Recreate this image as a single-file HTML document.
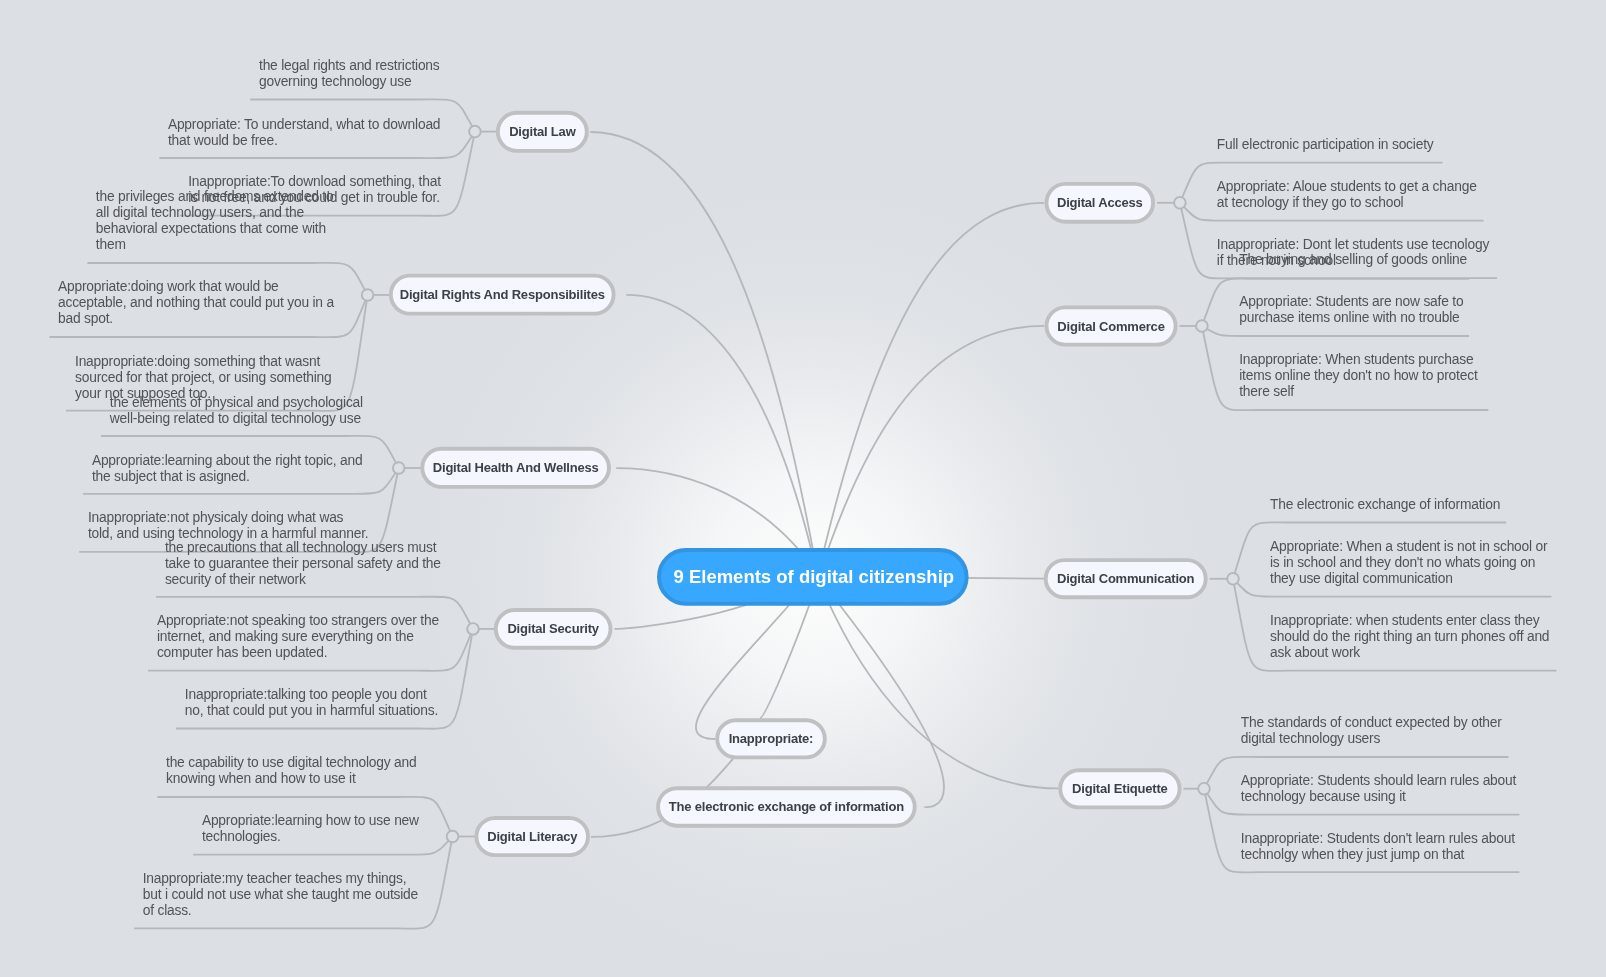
<!DOCTYPE html>
<html><head><meta charset="utf-8"><style>
html,body{margin:0;padding:0;width:1606px;height:977px;overflow:hidden}
body{background:radial-gradient(circle at 813px 577px,#fdfdfd 0px,#f5f6f7 100px,#e8eaed 200px,#dfe2e6 290px,#dcdfe3 390px,#dcdfe3 100%);font-family:"Liberation Sans",sans-serif;position:relative}
svg{position:absolute;left:0;top:0}
#wrap{position:absolute;left:0;top:0;width:1606px;height:977px;will-change:transform}
.ln path{fill:none;stroke:#b5b8bb;stroke-width:1.8}
.cc{fill:#dde0e4;stroke:#b5b8bb;stroke-width:1.9}
.nd{fill:#f4f8fe;stroke:#bfc0c2;stroke-width:3.9}
.t{position:absolute;font-size:13.8px;line-height:16px;letter-spacing:-0.2px;color:#505358;white-space:nowrap}
.n{position:absolute;font-size:13px;font-weight:bold;letter-spacing:-0.2px;color:#3d4146;text-align:center;white-space:nowrap}
.c{position:absolute;font-size:18.5px;font-weight:bold;letter-spacing:0px;color:#fff;text-align:center;white-space:nowrap}
</style></head><body>
<svg width="1606" height="977" viewBox="0 0 1606 977">
<g class="ln"><path d="M590.4,132.0 C720.2,132.0 779.4,364.6 818.0,577.0"/><path d="M626.4,294.8 C704.7,294.8 773.5,379.3 817.7,577.0"/><path d="M616.2,468.1 C673.3,468.1 760.1,488.6 819.8,577.0"/><path d="M1044.2,202.9 C966.6,202.9 887.7,272.1 817.6,577.0"/><path d="M1044.2,325.9 C918.0,325.9 857.7,458.0 818.5,577.0"/><path d="M614.5,628.9 C652.2,628.9 802.7,602.7 776.7,577.0"/><path d="M1058.1,788.4 C914.6,788.4 842.6,639.1 817.6,577.0"/><path d="M924.5,807.0 C923.6,807.0 1012.5,821.4 817.7,577.0"/><path d="M715.3,739.0 C653.7,739.0 753.7,649.5 813.4,577.0"/><path d="M759.8,718.5 C764.1,718.5 792.6,654.3 819.2,577.0"/><path d="M591.0,836.9 C677.7,836.9 721.3,770.2 733.1,759.0"/><path d="M960,577.8 L1046,578.6"/><path d="M474.9,131.6 L498.4,131.6"/><path d="M474.9,131.6 C455.5,96.1 461.7,99.5 418.8,99.5 L250.2,99.5"/><path d="M474.9,131.6 C455.5,160.8 461.7,158.0 418.8,158.0 L159.3,158.0"/><path d="M474.9,131.6 C455.5,224.5 461.7,215.6 418.8,215.6 L179.5,215.6"/><path d="M367.6,295.0 L391.4,295.0"/><path d="M367.6,295.0 C348.2,259.6 354.4,263.0 311.5,263.0 L87.4,263.0"/><path d="M367.6,295.0 C348.2,341.5 354.4,337.0 311.5,337.0 L49.5,337.0"/><path d="M367.6,295.0 C348.2,422.9 354.4,410.6 311.5,410.6 L66.0,410.6"/><path d="M398.7,468.0 L422.9,468.0"/><path d="M398.7,468.0 C379.3,432.6 385.5,436.0 342.6,436.0 L101.0,436.0"/><path d="M398.7,468.0 C379.3,496.5 385.5,493.8 342.6,493.8 L83.0,493.8"/><path d="M398.7,468.0 C379.3,560.8 385.5,551.9 342.6,551.9 L79.2,551.9"/><path d="M473.0,628.9 L496.3,628.9"/><path d="M473.0,628.9 C453.6,593.4 459.8,596.8 416.9,596.8 L156.0,596.8"/><path d="M473.0,628.9 C453.6,675.1 459.8,670.7 416.9,670.7 L148.0,670.7"/><path d="M473.0,628.9 C453.6,739.1 459.8,728.5 416.9,728.5 L176.0,728.5"/><path d="M452.5,836.5 L477.0,836.5"/><path d="M452.5,836.5 C433.1,792.8 439.3,797.0 396.4,797.0 L157.4,797.0"/><path d="M452.5,836.5 C433.1,856.5 439.3,854.6 396.4,854.6 L193.0,854.6"/><path d="M452.5,836.5 C433.1,938.1 439.3,928.4 396.4,928.4 L134.0,928.4"/><path d="M1157.0,202.8 L1179.9,202.8"/><path d="M1179.9,202.8 C1199.3,158.4 1193.1,162.7 1236.0,162.7 L1442.5,162.7"/><path d="M1179.9,202.8 C1199.3,222.5 1193.1,220.6 1236.0,220.6 L1483.6,220.6"/><path d="M1179.9,202.8 C1199.3,286.2 1193.1,278.2 1236.0,278.2 L1497.0,278.2"/><path d="M1179.5,326.0 L1201.9,326.0"/><path d="M1201.9,326.0 C1221.3,273.8 1215.1,278.8 1258.0,278.8 L1469.0,278.8"/><path d="M1201.9,326.0 C1221.3,337.1 1215.1,336.0 1258.0,336.0 L1469.0,336.0"/><path d="M1201.9,326.0 C1221.3,418.9 1215.1,410.0 1258.0,410.0 L1488.3,410.0"/><path d="M1209.6,578.8 L1233.0,578.8"/><path d="M1233.0,578.8 C1252.4,516.5 1246.2,522.5 1289.1,522.5 L1506.3,522.5"/><path d="M1233.0,578.8 C1252.4,598.5 1246.2,596.6 1289.1,596.6 L1551.5,596.6"/><path d="M1233.0,578.8 C1252.4,680.4 1246.2,670.7 1289.1,670.7 L1556.5,670.7"/><path d="M1183.5,788.7 L1204.0,788.7"/><path d="M1204.0,788.7 C1223.4,753.6 1217.2,757.0 1260.1,757.0 L1508.5,757.0"/><path d="M1204.0,788.7 C1223.4,817.3 1217.2,814.6 1260.1,814.6 L1519.4,814.6"/><path d="M1204.0,788.7 C1223.4,881.1 1217.2,872.2 1260.1,872.2 L1519.4,872.2"/></g>
<circle cx="474.9" cy="131.6" r="5.8" class="cc"/><circle cx="367.6" cy="295.0" r="5.8" class="cc"/><circle cx="398.7" cy="468.0" r="5.8" class="cc"/><circle cx="473.0" cy="628.9" r="5.8" class="cc"/><circle cx="452.5" cy="836.5" r="5.8" class="cc"/><circle cx="1179.9" cy="202.8" r="5.8" class="cc"/><circle cx="1201.9" cy="326.0" r="5.8" class="cc"/><circle cx="1233.0" cy="578.8" r="5.8" class="cc"/><circle cx="1204.0" cy="788.7" r="5.8" class="cc"/>
<rect x="497.8" y="112.7" width="89.0" height="38.2" rx="19.1" class="nd"/><rect x="390.8" y="275.6" width="222.8" height="38.0" rx="19.0" class="nd"/><rect x="422.3" y="448.8" width="186.7" height="38.1" rx="19.1" class="nd"/><rect x="495.8" y="610.0" width="114.7" height="37.8" rx="18.9" class="nd"/><rect x="476.4" y="818.0" width="111.6" height="37.1" rx="18.6" class="nd"/><rect x="1046.5" y="183.9" width="106.6" height="37.8" rx="18.9" class="nd"/><rect x="1046.5" y="307.4" width="129.1" height="37.2" rx="18.6" class="nd"/><rect x="1045.7" y="560.1" width="160.0" height="37.2" rx="18.6" class="nd"/><rect x="1060.2" y="770.2" width="119.4" height="37.2" rx="18.6" class="nd"/><rect x="717.2" y="720.2" width="107.6" height="37.2" rx="18.6" class="nd"/><rect x="658.1" y="788.2" width="256.6" height="37.5" rx="18.7" class="nd"/>
<rect x="659.0" y="550.0" width="307.6" height="53.8" rx="26.9" fill="#38a7ff" stroke="#3394e2" stroke-width="4"/>
</svg>
<div id="wrap"><div class="t" style="left:259.0px;top:58.4px">the legal rights and restrictions<br>governing technology use</div><div class="t" style="left:167.9px;top:116.6px">Appropriate: To understand, what to download<br>that would be free.</div><div class="t" style="left:188.2px;top:174.4px">Inappropriate:To download something, that<br>is not free, and you could get in trouble for.</div><div class="t" style="left:95.8px;top:188.5px">the privileges and freedoms extended to<br>all digital technology users, and the<br>behavioral expectations that come with<br>them</div><div class="t" style="left:58.0px;top:279.3px">Appropriate:doing work that would be<br>acceptable, and nothing that could put you in a<br>bad spot.</div><div class="t" style="left:75.0px;top:353.6px">Inappropriate:doing something that wasnt<br>sourced for that project, or using something<br>your not supposed too.</div><div class="t" style="left:109.8px;top:394.6px">the elements of physical and psychological<br>well-being related to digital technology use</div><div class="t" style="left:91.9px;top:452.6px">Appropriate:learning about the right topic, and<br>the subject that is asigned.</div><div class="t" style="left:87.9px;top:510.4px">Inappropriate:not physicaly doing what was<br>told, and using technology in a harmful manner.</div><div class="t" style="left:164.9px;top:539.6px">the precautions that all technology users must<br>take to guarantee their personal safety and the<br>security of their network</div><div class="t" style="left:156.9px;top:613.3px">Appropriate:not speaking too strangers over the<br>internet, and making sure everything on the<br>computer has been updated.</div><div class="t" style="left:184.8px;top:687.3px">Inappropriate:talking too people you dont<br>no, that could put you in harmful situations.</div><div class="t" style="left:166.0px;top:755.3px">the capability to use digital technology and<br>knowing when and how to use it</div><div class="t" style="left:201.9px;top:813.2px">Appropriate:learning how to use new<br>technologies.</div><div class="t" style="left:142.7px;top:871.4px">Inappropriate:my teacher teaches my things,<br>but i could not use what she taught me outside<br>of class.</div><div class="t" style="left:1216.8px;top:137.2px">Full electronic participation in society</div><div class="t" style="left:1216.8px;top:179.2px">Appropriate: Aloue students to get a change<br>at tecnology if they go to school</div><div class="t" style="left:1216.8px;top:237.4px">Inappropriate: Dont let students use tecnology<br>if there not in school</div><div class="t" style="left:1239.2px;top:252.1px">The buying and selling of goods online</div><div class="t" style="left:1239.2px;top:294.0px">Appropriate: Students are now safe to<br>purchase items online with no trouble</div><div class="t" style="left:1239.2px;top:352.3px">Inappropriate: When students purchase<br>items online they don't no how to protect<br>there self</div><div class="t" style="left:1270.0px;top:497.2px">The electronic exchange of information</div><div class="t" style="left:1270.0px;top:539.3px">Appropriate: When a student is not in school or<br>is in school and they don't no whats going on<br>they use digital communication</div><div class="t" style="left:1270.0px;top:613.1px">Inappropriate: when students enter class they<br>should do the right thing an turn phones off and<br>ask about work</div><div class="t" style="left:1240.8px;top:715.3px">The standards of conduct expected by other<br>digital technology users</div><div class="t" style="left:1240.8px;top:773.2px">Appropriate: Students should learn rules about<br>technology because using it</div><div class="t" style="left:1240.8px;top:831.4px">Inappropriate: Students don't learn rules about<br>technolgy when they just jump on that</div><div class="n" style="left:495.9px;top:110.7px;width:92.9px;height:42.1px;line-height:42.1px">Digital Law</div><div class="n" style="left:388.9px;top:273.7px;width:226.7px;height:41.9px;line-height:41.9px">Digital Rights And Responsibilites</div><div class="n" style="left:420.4px;top:446.9px;width:190.6px;height:42.0px;line-height:42.0px">Digital Health And Wellness</div><div class="n" style="left:493.8px;top:608.0px;width:118.6px;height:41.7px;line-height:41.7px">Digital Security</div><div class="n" style="left:474.5px;top:816.0px;width:115.5px;height:41.0px;line-height:41.0px">Digital Literacy</div><div class="n" style="left:1044.5px;top:182.0px;width:110.5px;height:41.7px;line-height:41.7px">Digital Access</div><div class="n" style="left:1044.5px;top:305.5px;width:133.0px;height:41.1px;line-height:41.1px">Digital Commerce</div><div class="n" style="left:1043.7px;top:558.1px;width:163.9px;height:41.1px;line-height:41.1px">Digital Communication</div><div class="n" style="left:1058.2px;top:768.2px;width:123.3px;height:41.1px;line-height:41.1px">Digital Etiquette</div><div class="n" style="left:715.2px;top:718.2px;width:111.5px;height:41.1px;line-height:41.1px">Inappropriate:</div><div class="n" style="left:656.1px;top:786.2px;width:260.5px;height:41.4px;line-height:41.4px">The electronic exchange of information</div><div class="c" style="left:658px;top:548px;width:311.6px;height:57.8px;line-height:57.8px">9 Elements of digital citizenship</div></div>
</body></html>
